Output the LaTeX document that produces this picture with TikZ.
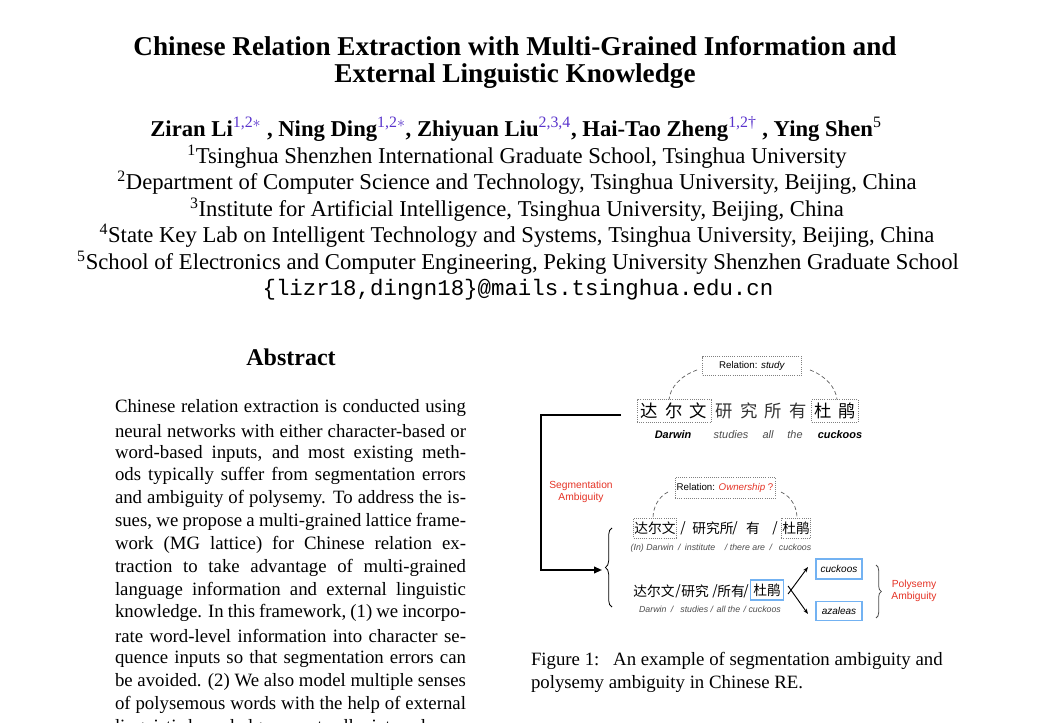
\documentclass[tikz,border=0pt]{standalone}
\usepackage{fontspec}
\setmainfont{Liberation Serif}
\setsansfont{Liberation Sans}
\setmonofont{Liberation Mono}
\newfontfamily\cjk{Noto Sans CJK SC}
\usetikzlibrary{arrows.meta,decorations.pathreplacing}
\definecolor{supc}{rgb}{0.35,0.2,0.8}
\definecolor{redt}{rgb}{0.9,0.2,0.15}
\definecolor{bluebox}{rgb}{0.45,0.7,0.95}
\definecolor{gloss}{gray}{0.3}
\newcommand{\sps}[1]{\textsuperscript{\mdseries\color{supc}#1}}
\begin{document}
\begin{tikzpicture}[x=0.75pt,y=-0.75pt,
  every node/.style={inner sep=0pt,outer sep=0pt},
  absl/.style={anchor=west,font=\fontsize{14.1}{17}\selectfont},
  aff/.style={font=\fontsize{17}{20}\selectfont},
  dotbox/.style={draw=gray,densely dotted,line width=0.6pt},
  bbox/.style={draw=bluebox,line width=0.9pt,inner sep=2pt},
  arcl/.style={draw=gray!70!black,densely dashed,line width=0.5pt},
  fig/.style={font=\sffamily\fontsize{7.3}{8}\selectfont},
  gl/.style={font=\sffamily\itshape\fontsize{6.6}{8}\selectfont,text=gloss},
  ck/.style={font=\cjk\fontsize{10.3}{11}\selectfont},
  ckb/.style={font=\cjk\fontsize{13}{14}\selectfont}]
\useasboundingbox (0,0) rectangle (1050,723);
\fill[white] (0,0) rectangle (1050,723);
% title
\node[font=\bfseries\fontsize{20.4}{23}\selectfont] (t1) at (515,46) {Chinese Relation Extraction with Multi-Grained Information and};
\node[font=\bfseries\fontsize{20.4}{23}\selectfont] (t2) at (515,76) {External Linguistic Knowledge};
\node[font=\bfseries\fontsize{17}{20}\selectfont] (au) at (516,129) {Ziran Li\sps{1,2$*$} , Ning Ding\sps{1,2$*$}, Zhiyuan Liu\sps{2,3,4}, Hai-Tao Zheng\sps{1,2\dag} , Ying Shen\textsuperscript{\mdseries 5}};
\node[aff] (a1) at (517,157) {\textsuperscript{1}Tsinghua Shenzhen International Graduate School, Tsinghua University};
\node[aff] (a2) at (517,183) {\textsuperscript{2}Department of Computer Science and Technology, Tsinghua University, Beijing, China};
\node[aff] (a3) at (517,210) {\textsuperscript{3}Institute for Artificial Intelligence, Tsinghua University, Beijing, China};
\node[aff] (a4) at (517,236) {\textsuperscript{4}State Key Lab on Intelligent Technology and Systems, Tsinghua University, Beijing, China};
\node[aff] (a5) at (518,263) {\textsuperscript{5}School of Electronics and Computer Engineering, Peking University Shenzhen Graduate School};
\node[font=\ttfamily\fontsize{16.8}{20}\selectfont] (em) at (518,290) {\{lizr18,dingn18\}@mails.tsinghua.edu.cn};
% abstract
\node[font=\bfseries\fontsize{18}{20}\selectfont] (ab) at (291,357) {Abstract};
\foreach \y/\t in {408/{Chinese relation extraction is conducted using},
 431/{neural networks with either character-based or},
 454/{word-based inputs, and most existing meth-},
 476/{ods typically suffer from segmentation errors},
 499/{and ambiguity of polysemy. To address the is-},
 522/{sues, we propose a multi-grained lattice frame-},
 545/{work (MG lattice) for Chinese relation ex-},
 568/{traction to take advantage of multi-grained},
 591/{language information and external linguistic},
 613/{knowledge. In this framework, (1) we incorpo-},
 636/{rate word-level information into character se-},
 659/{quence inputs so that segmentation errors can},
 682/{be avoided. (2) We also model multiple senses},
 705/{of polysemous words with the help of external}}
 \node[absl] at (115,\y) {\makebox[263.25pt][s]{\t}};
\node[absl] (l15) at (115,728) {\makebox[263.25pt][s]{linguistic knowledge, so as to alleviate polysemy}};
\node[absl] (c1) at (531,661) {Figure 1:\hspace{0.4em} An example of segmentation ambiguity and};
\node[absl] (c2) at (531,684) {polysemy ambiguity in Chinese RE.};
% ---- figure top
\node[fig,dotbox,minimum width=74pt,minimum height=14pt] (r1) at (752,366) {Relation: \textit{study}};
\node[ckb,dotbox,minimum width=55.5pt,minimum height=17pt] (w1) at (674,411) {达\hspace{0.42em}尔\hspace{0.42em}文};
\node[ckb,text=black!80] (w2) at (761,411) {研\hspace{0.42em}究\hspace{0.42em}所\hspace{0.42em}有};
\node[ckb,dotbox,minimum width=35pt,minimum height=17pt] (w3) at (835,411) {杜\hspace{0.42em}鹃};
\node[fig,font=\sffamily\bfseries\itshape\fontsize{8.2}{9}\selectfont] (e1) at (673,435) {Darwin};
\node[fig,font=\sffamily\itshape\fontsize{8.2}{9}\selectfont,text=gloss] (e2) at (731,435) {studies};
\node[fig,font=\sffamily\itshape\fontsize{8.2}{9}\selectfont,text=gloss] (e3) at (768,435) {all};
\node[fig,font=\sffamily\itshape\fontsize{8.2}{9}\selectfont,text=gloss] (e4) at (795,435) {the};
\node[fig,font=\sffamily\bfseries\itshape\fontsize{8.2}{9}\selectfont] (e5) at (840,435) {cuckoos};
\coordinate (q1) at (697,370);
\coordinate (q2) at (810,370);
\draw[arcl] (q1) .. controls (680,376) and (670,388) .. (w1.north -| 669,0);
\draw[arcl] (q2) .. controls (826,376) and (836,388) .. (w3.north -| 837,0);
% connector
\coordinate (k0) at (621,415);
\coordinate (k1) at (541,415);
\coordinate (k2) at (541,570);
\coordinate (k3) at (602,570);
\draw[line width=1.3pt,-{Triangle[length=6pt,width=5pt]}] (k0) -- (k1) -- (k2) -- (k3);
\node[fig,text=redt,align=center,font=\sffamily\fontsize{7.7}{8.7}\selectfont] (sa) at (581,492) {Segmentation\\Ambiguity};
% second relation
\node[fig,dotbox,minimum width=75pt,minimum height=16pt] (r2) at (725,488) {Relation: \textcolor{redt}{\textit{Ownership}} \textcolor{redt}{?}};
\node[ck,dotbox,minimum width=32pt,minimum height=15pt] (b1) at (655,528) {达尔文};
\node[ck] (s1) at (683,528) {/};
\node[ck] (s2) at (713,528) {研究所};
\node[ck] (s3) at (735,528) {/};
\node[ck] (s4) at (753,528) {有};
\node[ck] (s5) at (775,528) {/};
\node[ck,dotbox,minimum width=22pt,minimum height=15pt] (b2) at (796,528) {杜鹃};
\coordinate (q3) at (668,492);
\coordinate (q4) at (781,492);
\draw[arcl] (q3) .. controls (658,497) and (653,508) .. (b1.north -| 653,0);
\draw[arcl] (q4) .. controls (792,497) and (797,508) .. (b2.north -| 797,0);
\node[gl] (g1) at (721,548) {(In) Darwin\hspace{0.5em}/\hspace{0.5em}institute\hspace{1.1em}/ there are\hspace{0.5em}/\hspace{0.8em}cuckoos};
\node[ck] (t1a) at (654,591) {达尔文};
\node[ck] (t2a) at (678,591) {/};
\node[ck] (t3a) at (695,591) {研究};
\node[ck] (t4a) at (715,591) {/};
\node[ck] (t5a) at (731,591) {所有};
\node[ck] (t6a) at (746,591) {/};
\node[ck,bbox,minimum width=23pt,minimum height=15pt] (bb) at (767,590) {杜鹃};
\node[gl] (g2) at (710,609) {Darwin\hspace{0.5em}/\hspace{0.8em}studies /\hspace{0.4em}all the\hspace{0.4em}/ cuckoos};
\node[fig,bbox,minimum width=34.5pt,minimum height=15pt,font=\sffamily\itshape\fontsize{7.5}{8}\selectfont] (p1) at (839,569) {cuckoos};
\node[fig,bbox,minimum width=34.5pt,minimum height=14pt,font=\sffamily\itshape\fontsize{7.5}{8}\selectfont] (p2) at (839,611) {azaleas};
\coordinate (ar1) at (808,567);
\coordinate (ar2) at (808,614);
\draw[line width=0.7pt,-{Stealth[length=4pt]}] ([xshift=3.5pt,yshift=-3pt]bb.east) -- (ar1);
\draw[line width=0.7pt,-{Stealth[length=4pt]}] ([xshift=3.5pt,yshift=3pt]bb.east) -- (ar2);
\node[fig,text=redt,align=center,font=\sffamily\fontsize{7.7}{8.7}\selectfont] (pa) at (914,591) {Polysemy\\Ambiguity};
\coordinate (bl1) at (612,607);
\coordinate (bl2) at (612,528);
\draw[line width=0.6pt,decorate,decoration={brace,amplitude=5pt}] (bl1) -- (bl2);
\coordinate (br1) at (876,565);
\coordinate (br2) at (876,618);
\draw[line width=0.6pt,gray!60!black,decorate,decoration={brace,amplitude=4pt}] (br1) -- (br2);
\end{tikzpicture}
\end{document}
